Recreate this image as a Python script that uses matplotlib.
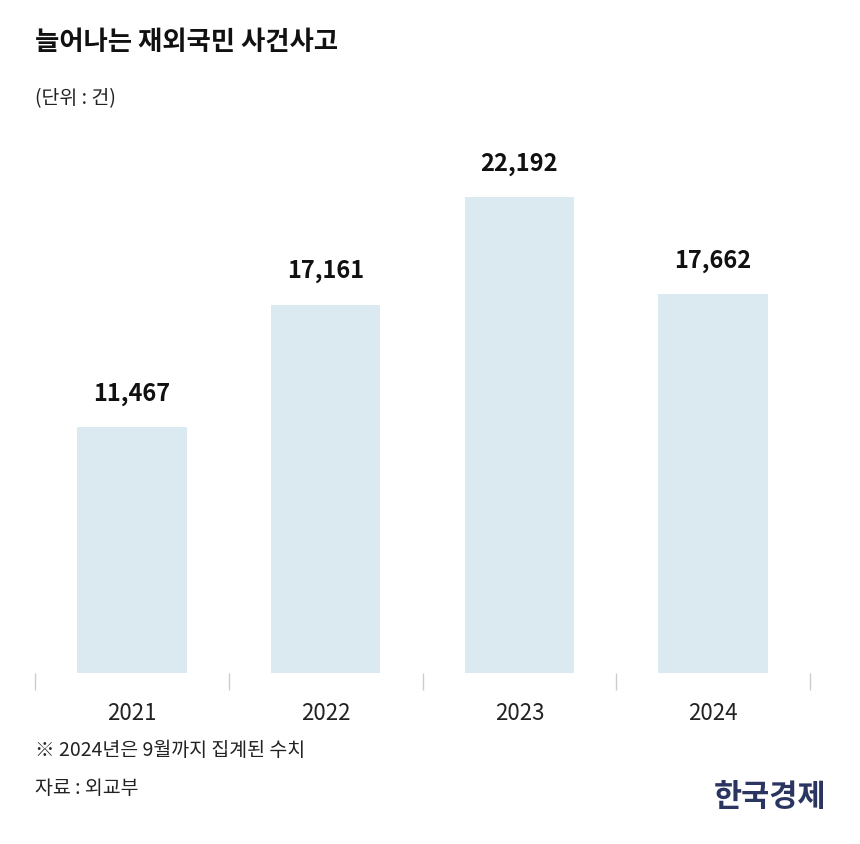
import matplotlib
matplotlib.use("Agg")
import matplotlib.pyplot as plt
from matplotlib import font_manager

years = ["2021", "2022", "2023", "2024"]
values = [11467, 17161, 22192, 17662]

names = {f.name for f in font_manager.fontManager.ttflist}
fam = [n for n in ["Noto Sans CJK KR", "Noto Sans CJK JP", "Noto Sans CJK SC", "Noto Sans CJK TC"] if n in names]
plt.rcParams["font.family"] = fam + ["DejaVu Sans"]
fig = plt.figure(figsize=(8.6, 8.44), dpi=100)
ax = fig.add_axes([35/860, 1-673/844, 775/860, 0.6354])
x = range(len(years))
ax.bar(x, values, width=0.565, color="#dbe9f1")
for i, v in zip(x, values):
    ax.text(i, v + 1000, f"{v:,}", ha="center", va="bottom", fontsize=17, fontweight="bold", color="#111")
ax.set_xlim(-0.5, 3.5)
ax.set_ylim(0, 25000)
ax.set_yticks([])
for s in ax.spines.values():
    s.set_visible(False)
ax.set_xticks([-0.5, 0.5, 1.5, 2.5, 3.5])
ax.set_xticklabels([])
ax.tick_params(axis="x", length=12, color="#cccccc", width=1)
for i, y in zip(x, years):
    ax.text(i, -1350, y, ha="center", va="top", fontsize=16, color="#222")

fig.text(35/860, 1-43/844, "늘어나는 재외국민 사건사고", fontsize=19, fontweight="bold", va="center", color="#111")
fig.text(35/860, 1-99/844, "(단위 : 건)", fontsize=14, va="center", color="#222")
fig.text(35/860, 1-751/844, "※ 2024년은 9월까지 집계된 수치", fontsize=14, va="center", color="#222")
fig.text(35/860, 1-788/844, "자료 : 외교부", fontsize=14, va="center", color="#222")
fig.text(826/860, 1-797/844, "한국경제", fontsize=22, fontweight="bold", ha="right", va="center", color="#2a3660")
fig.savefig("out.png", dpi=100)
